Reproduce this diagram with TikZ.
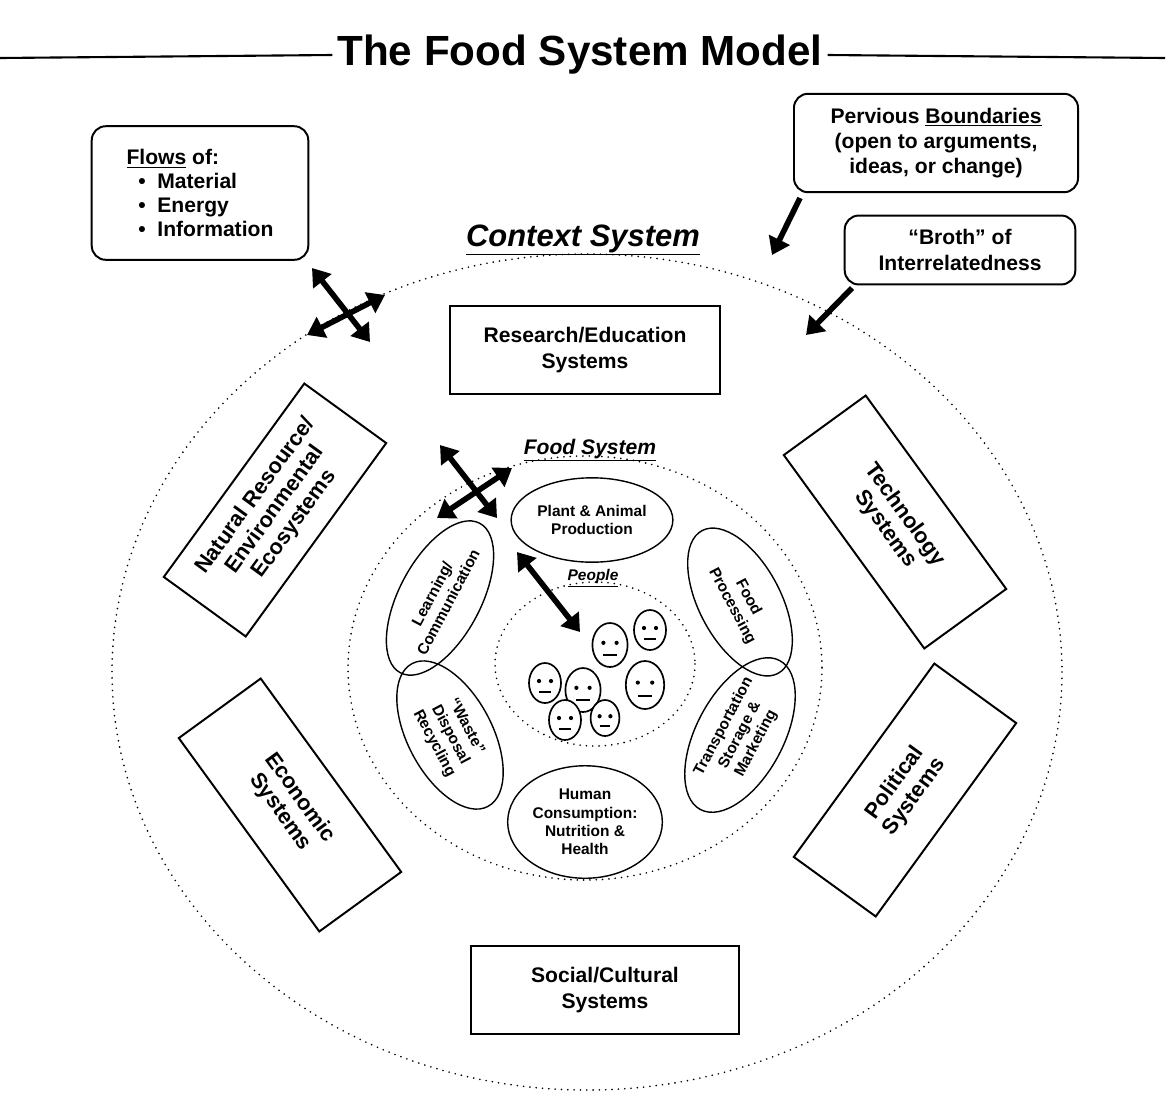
\documentclass[tikz,border=0pt]{standalone}
\usepackage{fontspec}
\setmainfont{Liberation Sans}
\usetikzlibrary{shapes.geometric,arrows.meta}
\begin{document}
\begin{tikzpicture}[x=0.025cm,y=-0.025cm,
  dotc/.style={line width=1.3pt,dash pattern=on 0pt off 4.5pt,line cap=round},
  box/.style={draw,line width=1.4pt,align=center,font=\bfseries\fontsize{15}{18}\selectfont,inner sep=4pt},
  rbox/.style={box,rounded corners=10pt},
  sbox/.style={box,minimum width=170pt,minimum height=72pt,font=\bfseries\fontsize{15.5}{17}\selectfont},
  ell/.style={draw,ellipse,line width=1pt,align=center,font=\bfseries\fontsize{11}{13}\selectfont,inner sep=1pt},
  dbl/.style={{Triangle[width=16pt,length=12pt]}-{Triangle[width=16pt,length=12pt]},line width=4pt},
  sgl/.style={-{Triangle[width=16pt,length=12pt]},line width=4pt}]
\useasboundingbox (0,0) rectangle (1175,1100);
% title
\node (title) at (580,55) {\bfseries\fontsize{30}{34}\selectfont The Food System Model};
\coordinate (tl) at (0,58); \coordinate (tr) at (1165,58);
\draw[line width=1.5pt] (tl) -- (title.west);
\draw[line width=1.5pt] (title.east) -- (tr);
% circles
\draw[dotc] (587,672) ellipse [x radius=475,y radius=418];
\draw[dotc] (585,668) ellipse [x radius=237,y radius=212];
\draw[dotc] (595,664) ellipse [x radius=100,y radius=82];
\node (ctx) at (583,240) {\bfseries\itshape\fontsize{22}{26}\selectfont \underline{Context System}};
\node (fs) at (590,450) {\bfseries\itshape\fontsize{15}{18}\selectfont \underline{Food System}};
\node (ppl) at (593,578) {\bfseries\itshape\fontsize{11}{13}\selectfont \underline{People}};
% top boxes
\node[rbox,align=left,minimum width=154pt,minimum height=95pt] (flows) at (200,193) {\underline{Flows} of:\\[-1pt] \ \ \textbullet\ \ Material\\[-1pt] \ \ \textbullet\ \ Energy\\[-1pt] \ \ \textbullet\ \ Information};
\node[rbox,minimum width=202pt,minimum height=70pt] (perv) at (936,143) {Pervious \underline{Boundaries}\\(open to arguments,\\ideas, or change)};
\node[rbox,minimum width=164pt,minimum height=49pt] (broth) at (960,250) {``Broth'' of\\Interrelatedness};
% system boxes
\node[box,minimum width=192pt,minimum height=63pt] (res) at (585,350) {Research/Education\\Systems};
\node[box,minimum width=190pt,minimum height=63pt] (soc) at (605,990) {Social/Cultural\\Systems};
\node[sbox,rotate=54] (nat) at (275,510) {Natural Resource/\\Environmental\\Ecosystems};
\node[sbox,rotate=-54] (tech) at (895,522) {Technology\\Systems};
\node[sbox,rotate=-54] (eco) at (290,805) {Economic\\Systems};
\node[sbox,rotate=54] (pol) at (905,790) {Political\\Systems};
% food system ellipses
\node[ell,minimum width=115pt,minimum height=60pt] (plant) at (592,520) {Plant \& Animal\\Production};
\node[ell,rotate=-62,minimum width=115pt,minimum height=58pt] (proc) at (740,602) {Food\\Processing};
\node[ell,rotate=62,minimum width=120pt,minimum height=62pt] (trans) at (740,735) {Transportation\\Storage \&\\Marketing};
\node[ell,minimum width=110pt,minimum height=80pt] (hum) at (585,822) {Human\\Consumption:\\Nutrition \&\\Health};
\node[ell,rotate=-62,minimum width=115pt,minimum height=60pt] (waste) at (450,735) {``Waste''\\Disposal\\Recycling};
\node[ell,rotate=62,minimum width=115pt,minimum height=58pt] (learn) at (440,598) {Learning/\\Communication};
% arrows
\coordinate (a1) at (312,268); \coordinate (a2) at (370,342);
\coordinate (a3) at (385,295); \coordinate (a4) at (307,335);
\draw[dbl] (a1) -- (a2); \draw[dbl] (a3) -- (a4);
\coordinate (b1) at (440,445); \coordinate (b2) at (497,518);
\coordinate (b3) at (512,468); \coordinate (b4) at (437,518);
\draw[dbl] (b1) -- (b2); \draw[dbl] (b3) -- (b4);
\coordinate (c1) at (517,552); \coordinate (c2) at (580,632);
\draw[dbl] (c1) -- (c2);
\coordinate (p1) at (800,198); \coordinate (p2) at (772,255);
\draw[sgl] (p1) -- (p2);
\coordinate (q1) at (852,288); \coordinate (q2) at (806,335);
\draw[sgl] (q1) -- (q2);
% faces
\foreach \x/\y/\r/\n in {545/683/20/f1,583/690/22/f2,610/645/22/f3,650/630/20/f4,645/685/24/f5,565/720/20/f6,605/718/18/f7}{
  \draw[line width=1.2pt,fill=white] (\x,\y) ellipse [x radius=\r*0.8,y radius=\r];
  \fill (\x-\r*0.3,\y-\r*0.1) circle (1.5pt);
  \fill (\x+\r*0.3,\y-\r*0.1) circle (1.5pt);
  \draw[line width=1pt] (\x-\r*0.3,\y+\r*0.45) -- (\x+\r*0.3,\y+\r*0.45);
}
\end{tikzpicture}
\end{document}
